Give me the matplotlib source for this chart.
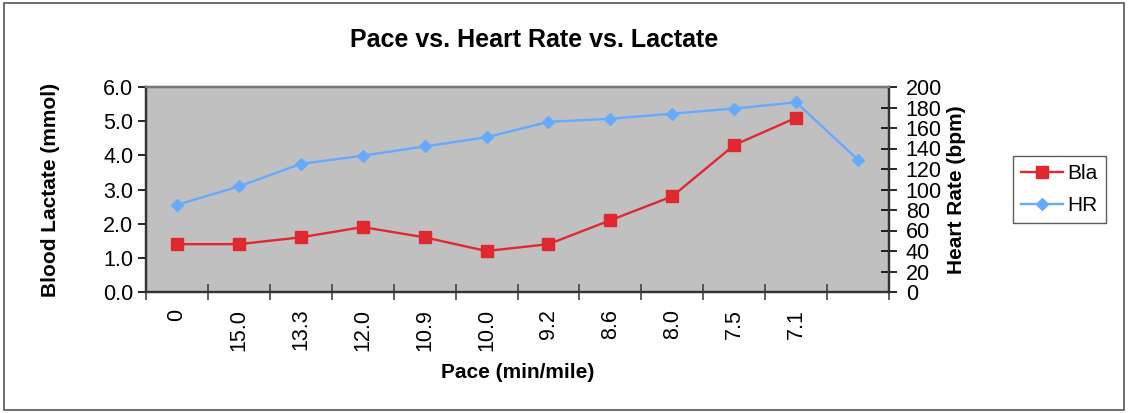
import numpy as np
from matplotlib import pyplot as plt
from matplotlib.patches import Rectangle

plt.rcParams['font.family'] = ['Liberation Sans', 'DejaVu Sans']

pace = ['0', '15.0', '13.3', '12.0', '10.9', '10.0', '9.2', '8.6', '8.0', '7.5', '7.1', '']
bla = [1.4, 1.4, 1.6, 1.9, 1.6, 1.2, 1.4, 2.1, 2.8, 4.3, 5.1]
hr = [85, 103, 125, 133, 142, 151, 166, 169, 174, 179, 185, 129]

red = '#E0282F'
blue = '#66AAFF'
edge = '#333333'

fig = plt.figure(figsize=(11.28, 4.13), dpi=100)
ax = fig.add_axes([146/1128, 1 - 292/413, 743/1128, 205/413])
ax2 = ax.twinx()

x = np.arange(len(pace))
l1, = ax.plot(x[:len(bla)], bla, color=red, marker='s', markersize=8, lw=1.7)
l2, = ax2.plot(x, hr, color=blue, marker='D', markersize=6, lw=1.7)

ax.set_facecolor('#C0C0C0')
ax.set_xlim(-0.5, len(pace) - 0.5)
ax.set_ylim(0, 6)
ax2.set_ylim(0, 200)
ax.set_yticks(np.arange(0, 6.1, 1))
ax.set_yticklabels(['%.1f' % v for v in np.arange(0, 6.1, 1)])
ax2.set_yticks(np.arange(0, 201, 20))
ax.set_xticks(x)
ax.set_xticklabels(pace, rotation=90)
ax.set_xticks(np.arange(-0.5, len(pace)), minor=True)
ax.tick_params(axis='x', which='major', length=0, pad=12, labelsize=15.5)
ax.tick_params(axis='x', which='minor', direction='inout', length=12, width=1.2, color='#444444')
ax.tick_params(axis='y', direction='out', length=6, width=1.2, labelsize=15.5, pad=3)
ax2.tick_params(axis='y', direction='inout', length=12, width=1.2, labelsize=15.5, pad=6)

for a in (ax, ax2):
    for s in a.spines.values():
        s.set_color(edge)
        s.set_linewidth(1.6)
ax2.spines['top'].set_color('#777777')

ax.set_ylabel('Blood Lactate (mmol)', fontsize=15, fontweight='bold', labelpad=31)
ax2.set_ylabel('Heart Rate (bpm)', fontsize=15, fontweight='bold', labelpad=4)
ax.set_xlabel('Pace (min/mile)', fontsize=15, fontweight='bold', labelpad=9)
fig.text(534/1128, 1 - 40/413, 'Pace vs. Heart Rate vs. Lactate', fontsize=18,
         fontweight='bold', ha='center', va='center')

leg = fig.legend([l1, l2], ['Bla', 'HR'], loc='upper left',
                 bbox_to_anchor=(1013/1128, 1 - 156/413), fontsize=15,
                 frameon=True, fancybox=False, handlelength=2.0,
                 borderpad=0.4, labelspacing=0.6, handletextpad=0.2,
                 borderaxespad=0)
leg.get_frame().set_edgecolor('#333333')
leg.get_frame().set_linewidth(1.0)

fig.patches.append(Rectangle((4/1128, 3/413), 1120/1128, 407/413, transform=fig.transFigure,
                             fill=False, edgecolor='#555555', lw=1.2))

plt.savefig('out.png')
